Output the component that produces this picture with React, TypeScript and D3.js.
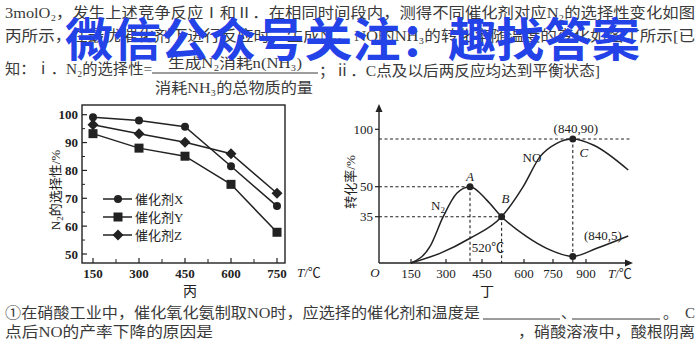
import React from 'react';
import * as d3 from 'd3';

// ---------- Data: chart 丙 ----------
const tempsBing = [150, 300, 450, 600, 750];
const selX = [99.1, 97.9, 95.7, 81.5, 67.2];
const selY = [93.2, 88.0, 85.1, 75.0, 57.8];
const selZ = [96.4, 93.2, 90.1, 86.0, 71.8];
const seriesNames = ['催化剂X', '催化剂Y', '催化剂Z'];
const bingYTicks = [50, 60, 70, 80, 90, 100];
const bingYMinor = [55, 65, 75, 85, 95];
const bingXTicks = [150, 300, 450, 600, 750];
const bingXMinor = [225, 375, 525, 675];

// ---------- Data: chart 丁 ----------
const dingXTicks = [150, 300, 450, 600, 750, 900];
const dingYTicks = [35, 50, 100];
const n2T = [150, 231, 288, 345, 400, 467, 520, 614, 717, 840, 949, 1092];
const n2V = [0, 12.3, 35, 46.7, 50, 43.3, 35, 19.9, 11.1, 5, 11.1, 20.4];
const noT = [150, 274, 400, 520, 597, 683, 767, 840, 933, 1092];
const noV = [0, 7.3, 18.7, 35, 50, 75.2, 86.4, 90, 85, 64];
const pointA = [400, 50];
const pointB = [520, 35];
const pointC = [840, 90];
const pointD = [840, 5];

const FONT = "'Liberation Serif', 'Noto Sans CJK SC', serif";
const INK = '#222';
const TXT = '#3a3a3a';

function Marker({ kind, cx, cy }: { kind: number; cx: number; cy: number }) {
  if (kind === 0) return <circle cx={cx} cy={cy} r={4} fill={INK} />;
  if (kind === 1) return <rect x={cx - 4.5} y={cy - 4.5} width={9} height={9} fill={INK} />;
  return <path d={`M${cx},${cy - 5.5}L${cx + 5.5},${cy}L${cx},${cy + 5.5}L${cx - 5.5},${cy}Z`} fill={INK} />;
}

function ChartBing() {
  const x = d3.scaleLinear().domain([150, 750]).range([93, 277]);
  const y = d3.scaleLinear().domain([50, 100]).range([254, 114.7]);
  const left = 82, right = 285, top = 105, bottom = 263;
  const line = d3.line<[number, number]>().x(d => x(d[0])).y(d => y(d[1]));
  const series = [selX, selY, selZ];
  const legendY = [199, 217, 235];
  return (
    <g fontFamily={FONT} fill={INK}>
      <rect x={left} y={top} width={right - left} height={bottom - top} fill="none" stroke={INK} strokeWidth={1.4} />
      {bingYTicks.map(t => (
        <g key={'yt' + t}>
          <line x1={left} x2={left + 5} y1={y(t)} y2={y(t)} stroke={INK} strokeWidth={1.2} />
          <text x={left - 4} y={y(t)} dy="0.35em" textAnchor="end" fontSize={13} fontWeight="bold">{t}</text>
        </g>
      ))}
      {bingYMinor.map(t => (
        <line key={'ym' + t} x1={left} x2={left + 3} y1={y(t)} y2={y(t)} stroke={INK} strokeWidth={1} />
      ))}
      {bingXTicks.map(t => (
        <g key={'xt' + t}>
          <line x1={x(t)} x2={x(t)} y1={bottom} y2={bottom - 5} stroke={INK} strokeWidth={1.2} />
          <text x={x(t)} y={bottom + 15} textAnchor="middle" fontSize={13} fontWeight="bold">{t}</text>
        </g>
      ))}
      {bingXMinor.map(t => (
        <line key={'xm' + t} x1={x(t)} x2={x(t)} y1={bottom} y2={bottom - 4} stroke={INK} strokeWidth={1} />
      ))}
      <text x={297} y={277} fontSize={13}><tspan fontStyle="italic">T</tspan>/℃</text>
      <text x={190} y={296} textAnchor="middle" fontSize={14}>丙</text>
      <text transform="translate(60,190) rotate(-90)" textAnchor="middle" fontSize={13}>
        N<tspan fontSize={9} dy={3}>2</tspan><tspan dy={-3}>的选择性/%</tspan>
      </text>
      {series.map((vals, si) => (
        <g key={'s' + si}>
          <path d={line(tempsBing.map((t, i) => [t, vals[i]]) as [number, number][]) || ''} fill="none" stroke={INK} strokeWidth={1.5} />
          {tempsBing.map((t, i) => <Marker key={i} kind={si} cx={x(t)} cy={y(vals[i])} />)}
        </g>
      ))}
      {seriesNames.map((n, i) => (
        <g key={'lg' + i}>
          <line x1={103} x2={132} y1={legendY[i]} y2={legendY[i]} stroke={INK} strokeWidth={1.5} />
          <Marker kind={i} cx={118} cy={legendY[i]} />
          <text x={135} y={legendY[i]} dy="0.36em" fontSize={13}>{n}</text>
        </g>
      ))}
    </g>
  );
}

function ChartDing() {
  const x = d3.scaleLinear().domain([0, 150, 300, 450, 600, 750, 900]).range([379, 411, 446, 482, 524, 553, 586]);
  const y = d3.scaleLinear().domain([0, 35, 50, 90, 100]).range([263, 216.7, 186.7, 139, 129.3]);
  const ox = x(0), oy = y(0);
  const curve = d3.line<[number, number]>().x(d => x(d[0])).y(d => y(d[1])).curve(d3.curveMonotoneX);
  const n2 = n2T.map((t, i) => [t, n2V[i]] as [number, number]);
  const no = noT.map((t, i) => [t, noV[i]] as [number, number]);
  const dash = '3,2.5';
  const xEnd = 633, yTop = 104;
  return (
    <g fontFamily={FONT} fill={INK}>
      <line x1={ox} x2={xEnd - 2} y1={oy} y2={oy} stroke={INK} strokeWidth={1.4} />
      <line x1={ox} x2={ox} y1={oy} y2={yTop + 2} stroke={INK} strokeWidth={1.4} />
      <path d={`M${xEnd},${oy}L${xEnd - 8},${oy - 3.5}L${xEnd - 8},${oy + 3.5}Z`} fill={INK} />
      <path d={`M${ox},${yTop}L${ox - 3.5},${yTop + 8}L${ox + 3.5},${yTop + 8}Z`} fill={INK} />
      {dingYTicks.map(t => (
        <g key={'y' + t}>
          <line x1={ox} x2={ox - 4} y1={y(t)} y2={y(t)} stroke={INK} strokeWidth={1.2} />
          <text x={ox - 6} y={y(t)} dy="0.35em" textAnchor="end" fontSize={13}>{t}</text>
        </g>
      ))}
      {dingXTicks.map(t => (
        <g key={'x' + t}>
          <line x1={x(t)} x2={x(t)} y1={oy} y2={oy - 4} stroke={INK} strokeWidth={1.2} />
          <text x={x(t)} y={oy + 15} textAnchor="middle" fontSize={13}>{t}</text>
        </g>
      ))}
      <text x={ox - 4} y={oy + 14} textAnchor="middle" fontSize={13} fontStyle="italic">O</text>
      <text x={608} y={oy + 15} fontSize={13}><tspan fontStyle="italic">T</tspan>/℃</text>
      <text x={487} y={296} textAnchor="middle" fontSize={14}>丁</text>
      <text transform="translate(355,182) rotate(-90)" textAnchor="middle" fontSize={13}>转化率/%</text>
      <g stroke={INK} strokeWidth={1.1} strokeDasharray={dash}>
        <line x1={ox} x2={xEnd - 2} y1={y(pointC[1])} y2={y(pointC[1])} />
        <line x1={ox} x2={x(pointA[0])} y1={y(pointA[1])} y2={y(pointA[1])} />
        <line x1={ox} x2={x(pointB[0])} y1={y(pointB[1])} y2={y(pointB[1])} />
        <line x1={x(pointA[0])} x2={x(pointA[0])} y1={y(pointA[1])} y2={oy} />
        <line x1={x(pointB[0])} x2={x(pointB[0])} y1={y(pointB[1])} y2={oy} />
        <line x1={x(pointC[0])} x2={x(pointC[0])} y1={y(pointC[1])} y2={oy} />
      </g>
      <path d={curve(n2) || ''} fill="none" stroke={INK} strokeWidth={1.5} />
      <path d={curve(no) || ''} fill="none" stroke={INK} strokeWidth={1.5} />
      {[pointA, pointB, pointC, pointD].map((p, i) => (
        <circle key={i} cx={x(p[0])} cy={y(p[1])} r={3.5} fill={INK} />
      ))}
      <text x={x(pointA[0])} y={y(pointA[1]) - 6} textAnchor="middle" fontSize={13} fontStyle="italic">A</text>
      <text x={x(pointB[0]) + 4} y={y(pointB[1]) - 14} textAnchor="middle" fontSize={13} fontStyle="italic">B</text>
      <text x={x(pointC[0]) + 11} y={y(pointC[1]) + 18} textAnchor="middle" fontSize={13} fontStyle="italic">C</text>
      <text x={x(pointC[0]) + 3} y={y(pointC[1]) - 6} textAnchor="middle" fontSize={13}>(840,90)</text>
      <text x={603} y={240} textAnchor="middle" fontSize={13}>(840,5)</text>
      <text x={532} y={162} textAnchor="middle" fontSize={13}>NO</text>
      <text x={431} y={210} fontSize={13}>N<tspan fontSize={9} dy={3}>2</tspan></text>
      <text x={488} y={252} textAnchor="middle" fontSize={13}>520℃</text>
    </g>
  );
}

function TextBlock() {
  return (
    <g fontFamily={FONT} fill={TXT} fontSize={15}>
      <text x={5} y={18} textLength={690} lengthAdjust="spacingAndGlyphs">3molO₂，发生上述竞争反应Ⅰ和Ⅱ．在相同时间段内，测得不同催化剂对应N₂的选择性变化如图</text>
      <text x={5} y={41} textLength={690} lengthAdjust="spacingAndGlyphs">丙所示，在最优催化剂下进行反应时，生成N₂、NO的NH₃的转化率随温度的变化如图丁所示[已</text>
      <text x={5} y={74} textLength={147} lengthAdjust="spacingAndGlyphs">知：ⅰ．N₂的选择性=</text>
      <text x={168} y={68} fontSize={14} textLength={134} lengthAdjust="spacingAndGlyphs">生成N₂消耗n(NH₃)</text>
      <line x1={152} x2={318} y1={73} y2={73} stroke={TXT} strokeWidth={1} />
      <text x={155} y={93} textLength={158} lengthAdjust="spacingAndGlyphs">消耗NH₃的总物质的量</text>
      <text x={319} y={76} textLength={281} lengthAdjust="spacingAndGlyphs">；ⅱ．C点及以后两反应均达到平衡状态]</text>
      <text x={5} y={318} textLength={475} lengthAdjust="spacingAndGlyphs">①在硝酸工业中，催化氧化氨制取NO时，应选择的催化剂和温度是</text>
      <line x1={483} x2={560} y1={319} y2={319} stroke={TXT} strokeWidth={1.2} />
      <text x={561} y={318}>、</text>
      <line x1={572} x2={660} y1={319} y2={319} stroke={TXT} strokeWidth={1.2} />
      <text x={663} y={318}>。</text>
      <text x={685} y={318}>C</text>
      <text x={5} y={337} textLength={208} lengthAdjust="spacingAndGlyphs">点后NO的产率下降的原因是</text>
      <text x={518} y={337} textLength={177} lengthAdjust="spacingAndGlyphs">，硝酸溶液中，酸根阴离</text>
    </g>
  );
}

export default function App() {
  return (
    <svg width={700} height={340} viewBox="0 0 700 340" style={{ position: 'absolute', left: 0, top: 0, background: '#fff' }}>
      <rect x={0} y={0} width={700} height={340} fill="#fff" />
      <TextBlock />
      <ChartBing />
      <ChartDing />
      <text x={65} y={36} dominantBaseline="central" fontFamily="'Noto Sans CJK SC', sans-serif" fontWeight="bold" fontSize={46} fill="#2342e8" textLength={575} lengthAdjust="spacingAndGlyphs">微信公众号关注：趣找答案</text>
    </svg>
  );
}
